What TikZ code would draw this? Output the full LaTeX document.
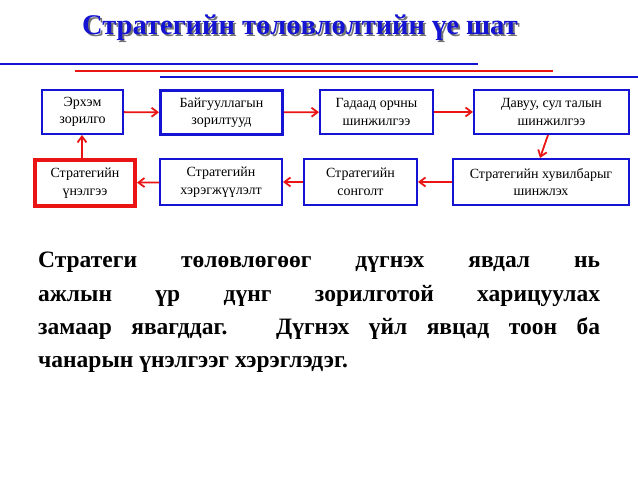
\documentclass[tikz,border=0pt]{standalone}
\usepackage{fontspec}
\setmainfont{Liberation Serif}
\usetikzlibrary{arrows.meta}
\definecolor{tblue}{RGB}{20,20,210}
\definecolor{tred}{RGB}{235,20,20}
\begin{document}
\begin{tikzpicture}[x=1pt,y=-1pt,
  bx/.style={draw=tblue,line width=2pt,align=center,font=\fontsize{14}{17.5}\selectfont,anchor=north west,inner sep=0pt},
  ar/.style={draw=tred,line width=1.8pt,-{Straight Barb[length=6pt,width=9pt]}}]
\useasboundingbox (0,0) rectangle (638,478);
\node[font=\bfseries\fontsize{28.5}{30}\selectfont,text=black!55] at (302,30) {Стратегийн төлөвлөлтийн үе шат};
\node[font=\bfseries\fontsize{28.5}{30}\selectfont,text=tblue] (title) at (300,28) {Стратегийн төлөвлөлтийн үе шат};
\draw[tblue,line width=2pt] (0,64) -- (478,64);
\draw[tred,line width=2pt] (75,71) -- (553,71);
\draw[tblue,line width=2pt] (160,77) -- (638,77);
\node[bx,minimum width=81pt,minimum height=44pt] (a1) at (41,89) {Эрхэм\\зорилго};
\node[bx,line width=3pt,minimum width=122pt,minimum height=44pt] (a2) at (159,89) {Байгууллагын\\зорилтууд};
\node[bx,minimum width=113pt,minimum height=44pt] (a3) at (319,89) {Гадаад орчны\\шинжилгээ};
\node[bx,minimum width=155pt,minimum height=44pt] (a4) at (473,89) {Давуу, сул талын\\шинжилгээ};
\node[bx,draw=tred,line width=4pt,minimum width=100pt,minimum height=46pt] (b1) at (33,158) {Стратегийн\\үнэлгээ};
\node[bx,minimum width=122pt,minimum height=46pt] (b2) at (159,158) {Стратегийн\\хэрэгжүүлэлт};
\node[bx,minimum width=113pt,minimum height=46pt] (b3) at (303,158) {Стратегийн\\сонголт};
\node[bx,minimum width=176pt,minimum height=46pt] (b4) at (452,158) {Стратегийн хувилбарыг\\шинжлэх};
\draw[ar] (a1) -- (a2);
\draw[ar] (a2) -- (a3);
\draw[ar] (a3) -- (a4);
\draw[ar] (a4.south -| 548,0) -- (b4.north -| 540,0);
\draw[ar] (b4) -- (b3);
\draw[ar] (b3) -- (b2);
\draw[ar] (b2) -- (b1);
\draw[ar] (b1.north -| 82,0) -- (a1.south -| 82,0);
\node[anchor=north west,inner sep=0pt,text width=562pt,align=justify,font=\bfseries\fontsize{23.5}{33.3}\selectfont] (body) at (38,252) {Стратеги төлөвлөгөөг дүгнэх явдал нь\linebreak ажлын үр дүнг зорилготой харицуулах\linebreak замаар явагддаг. Дүгнэх үйл явцад тоон ба\linebreak чанарын үнэлгээг хэрэглэдэг.};
\end{tikzpicture}
\end{document}
